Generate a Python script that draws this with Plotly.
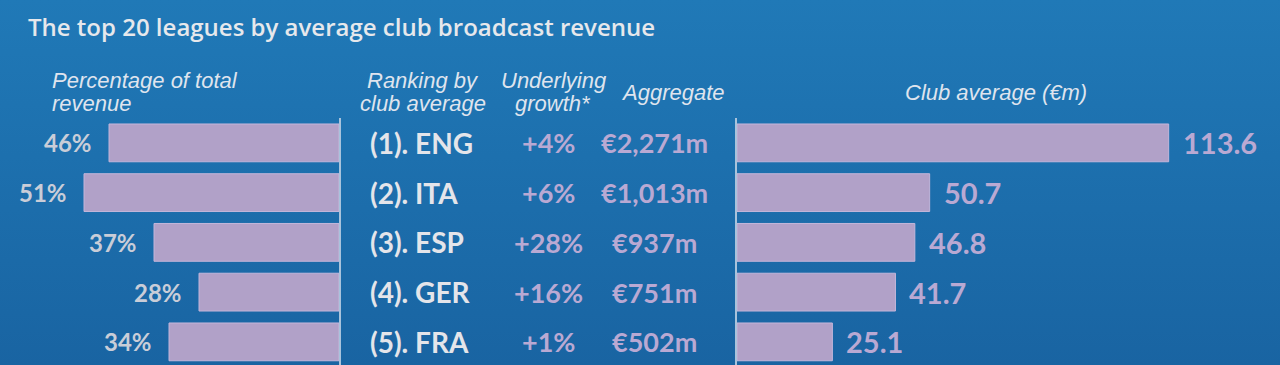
import base64
import plotly.graph_objects as go

# ---- data ----
leagues = ["ENG", "ITA", "ESP", "GER", "FRA"]
rank_labels = ["(1). ENG", "(2). ITA", "(3). ESP", "(4). GER", "(5). FRA"]
pct_of_total = [46, 51, 37, 28, 34]
growth = ["+4%", "+6%", "+28%", "+16%", "+1%"]
aggregate = ["€2,271m", "€1,013m", "€937m", "€751m", "€502m"]
club_average = [113.6, 50.7, 46.8, 41.7, 25.1]

W, H = 1280, 365
TOP = 118
PLOT_H = H - TOP

BAR = "#b1a1c8"
BAR_LINE = "#c3b6da"
LAV = "#b9a9d3"
HEAD = "#dfe4ee"
RANK = "#e4e5ea"
PCT = "#c9cdd8"
AXLINE = "#a9c3dc"
FONT = "Lato, 'Open Sans', sans-serif"
TFONT = "'Open Sans', Lato, sans-serif"
HFONT = "'Liberation Sans', Arial, sans-serif"


def px_x(p):
    return p / W


def px_y(p):
    return 1 + (TOP - p) / PLOT_H


svg = (
    '<svg xmlns="http://www.w3.org/2000/svg" width="1280" height="365" preserveAspectRatio="none">'
    '<defs><linearGradient id="g" x1="0" y1="0" x2="0" y2="1">'
    '<stop offset="0" stop-color="#2079b7"/><stop offset="1" stop-color="#1964a2"/>'
    '</linearGradient></defs><rect width="1280" height="365" fill="url(#g)"/></svg>'
)
bg_src = "data:image/svg+xml;base64," + base64.b64encode(svg.encode()).decode()

fig = go.Figure()
fig.add_trace(go.Bar(
    y=leagues, x=pct_of_total, orientation="h", xaxis="x", yaxis="y",
    marker=dict(color=BAR, line=dict(color=BAR_LINE, width=1)), width=0.76,
    hoverinfo="skip", showlegend=False,
))
fig.add_trace(go.Bar(
    y=leagues, x=club_average, orientation="h", xaxis="x2", yaxis="y2",
    marker=dict(color=BAR, line=dict(color=BAR_LINE, width=1)), width=0.76,
    hoverinfo="skip", showlegend=False,
))

ann = []
# title
ann.append(dict(text="The top 20 leagues by average club broadcast revenue",
                xref="paper", yref="paper", x=px_x(26), y=px_y(27),
                xanchor="left", yanchor="middle", showarrow=False,
                font=dict(family=TFONT, size=24, color="#e6e8ec", weight=600)))
# headers (one annotation per line)
headers = [
    ("Percentage of total", 50, 80, "left"),
    ("revenue", 50, 104, "left"),
    ("Ranking by", 423, 80, "center"),
    ("club average", 423, 104, "center"),
    ("Underlying", 554, 80, "center"),
    ("growth*", 553, 104, "center"),
    ("Aggregate", 673, 92, "center"),
    ("Club average (€m)", 996, 92, "center"),
]
for txt, xp, yp, anc in headers:
    ann.append(dict(text=txt, xref="paper", yref="paper", x=px_x(xp), y=px_y(yp),
                    xanchor=anc, yanchor="middle", showarrow=False,
                    font=dict(family=HFONT, size=22, color=HEAD, style="italic")))

for i, lg in enumerate(leagues):
    ann.append(dict(text=f"{pct_of_total[i]}%", xref="x", yref="y", x=pct_of_total[i], y=lg,
                    xanchor="right", yanchor="middle", xshift=-15, showarrow=False,
                    font=dict(family=FONT, size=24, color=PCT, weight=700)))
    ann.append(dict(text=rank_labels[i], xref="paper", yref="y", x=px_x(368), y=lg,
                    xanchor="left", yanchor="middle", showarrow=False,
                    font=dict(family=FONT, size=28, color=RANK, weight=700)))
    ann.append(dict(text=growth[i], xref="paper", yref="y", x=px_x(548), y=lg,
                    xanchor="center", yanchor="middle", showarrow=False,
                    font=dict(family=FONT, size=27, color=LAV, weight=700)))
    ann.append(dict(text=aggregate[i], xref="paper", yref="y", x=px_x(654), y=lg,
                    xanchor="center", yanchor="middle", showarrow=False,
                    font=dict(family=FONT, size=27, color=LAV, weight=700)))
    ann.append(dict(text=f"{club_average[i]:.1f}", xref="x2", yref="y2", x=club_average[i], y=lg,
                    xanchor="left", yanchor="middle", xshift=12, showarrow=False,
                    font=dict(family=FONT, size=29, color=LAV, weight=700)))

yrange = [-0.5 + PLOT_H / 49.75, -0.5]
fig.update_layout(
    width=W, height=H,
    margin=dict(l=0, r=0, t=TOP, b=0, pad=0),
    paper_bgcolor="#1c6ead", plot_bgcolor="rgba(0,0,0,0)",
    xaxis=dict(domain=[0, px_x(339)], range=[339 / 5.0, 0], visible=False, fixedrange=True),
    xaxis2=dict(domain=[px_x(737), 1], range=[0, (W - 737) / 3.8], visible=False, fixedrange=True),
    yaxis=dict(anchor="x", side="right", categoryorder="array", categoryarray=leagues,
               range=yrange, showticklabels=False, ticks="", showgrid=False, zeroline=False,
               showline=True, linecolor=AXLINE, linewidth=2),
    yaxis2=dict(anchor="x2", side="left", matches="y", categoryorder="array", categoryarray=leagues,
                range=yrange, showticklabels=False, ticks="", showgrid=False, zeroline=False,
                showline=True, linecolor=AXLINE, linewidth=2),
    annotations=ann,
    images=[dict(source=bg_src, xref="paper", yref="paper", x=0, y=px_y(0),
                 sizex=1, sizey=H / PLOT_H, xanchor="left", yanchor="top",
                 sizing="stretch", layer="below")],
)

fig.write_html(
    "out.html",
    config={"displayModeBar": False},
    post_script="document.body.style.margin='0';document.body.style.background='#1c6ead';",
)
